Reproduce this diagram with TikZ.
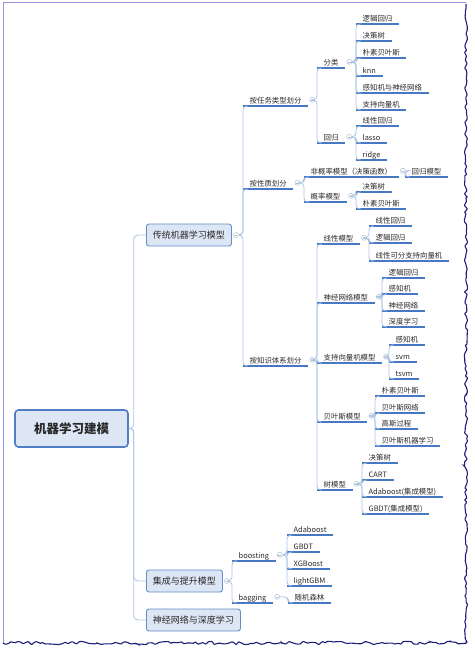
\documentclass[tikz,border=0pt]{standalone}
\usepackage{fontspec}
\setmainfont{Noto Sans CJK SC}
\usetikzlibrary{decorations.pathmorphing}
\definecolor{textgray}{RGB}{40,40,40}
\definecolor{ulblue}{RGB}{70,120,195}
\definecolor{linkblue}{RGB}{170,195,228}
\definecolor{boxfill}{RGB}{220,230,244}
\definecolor{boxblue}{RGB}{100,140,200}
\definecolor{rootblue}{RGB}{80,125,195}
\definecolor{foldgray}{RGB}{175,190,210}
\definecolor{framelav}{RGB}{150,145,225}
\definecolor{tornnavy}{RGB}{30,30,120}
\tikzset{
  rootbox/.style={
    draw=rootblue,
    fill=boxfill,
    line width=1.6pt,
    rounded corners=3.5pt,
    text=textgray,
    font=\fontsize{12.5}{14}\selectfont\bfseries,
    minimum width=113pt,
    minimum height=37pt
  },
  mainbox/.style={
    draw=boxblue,
    fill=boxfill,
    line width=0.9pt,
    rounded corners=2.5pt,
    text=textgray,
    font=\fontsize{9}{11}\selectfont,
    anchor=west,
    minimum height=22pt,
    inner xsep=6.5pt
  },
  topic/.style={
    anchor=south west,
    text=textgray,
    font=\fontsize{7.4}{8.8}\selectfont,
    inner xsep=6.5pt,
    inner ysep=1.5pt,
    text height=6pt,
    text depth=1pt,
    append after command={
      (\tikzlastnode.south west) edge[draw=ulblue,line width=1.1pt]
      (\tikzlastnode.south east)}
  },
  fold/.style={
    circle,
    draw=foldgray,
    fill=white,
    line width=0.5pt,
    inner sep=0pt,
    minimum size=5pt,
    path picture={
      \draw[foldgray,line width=0.4pt]
        ([xshift=-1.3pt]path picture bounding box.center) --
        ([xshift=1.3pt]path picture bounding box.center);}
  },
  branch/.style={
    draw=linkblue,
    line width=0.8pt,
    rounded corners=4pt
  },
  torn/.style={
    draw=tornnavy,
    line width=1.1pt,
    rounded corners=0.6pt,
    decorate,
    decoration={random steps,segment length=3.2pt,amplitude=1.7pt}
  }
}

\begin{document}
\begin{tikzpicture}[x=1pt,y=-1pt]
  \useasboundingbox (0,0) rectangle (474,655);
  \pgfmathsetseed{11}

  % Screenshot frame: plain top and left edge, torn right and bottom edge.
  \draw[framelav,line width=1pt] (3,643) -- (3,3) -- (466,3);
  \draw[torn] (466,4) -- (466,643) -- (3,643);

  % Root and first level.
  \node[rootbox] (ml) at (71.5,428.5) {机器学习建模};
  \node[mainbox] (trad) at (146,235) {传统机器学习模型};
  \node[mainbox] (ens)  at (146,581) {集成与提升模型};
  \node[mainbox] (nndl) at (146,620) {神经网络与深度学习};

  \foreach \c in {trad,ens,nndl}
    \draw[branch] (ml.east) -- ++(5pt,0) |- (\c.west);

  % Second level below the traditional models.
  \node[topic] (task)   at (243,106) {按任务类型划分};
  \node[topic] (nature) at (243,189) {按性质划分};
  \node[topic] (know)   at (243,366) {按知识体系划分};

  % By task.
  \node[topic] (cls) at (317,68)  {分类};
  \node[topic] (reg) at (317,143) {回归};

  \node[topic] (cls-lr)  at (356,24)  {逻辑回归};
  \node[topic] (cls-dt)  at (356,41)  {决策树};
  \node[topic] (cls-nb)  at (356,58)  {朴素贝叶斯};
  \node[topic] (cls-knn) at (356,76)  {knn};
  \node[topic] (cls-nn)  at (356,93)  {感知机与神经网络};
  \node[topic] (cls-svm) at (356,110) {支持向量机};

  \node[topic] (reg-lin)   at (356,126) {线性回归};
  \node[topic] (reg-lasso) at (356,143) {lasso};
  \node[topic] (reg-ridge) at (356,160) {ridge};

  % By nature.
  \node[topic] (nonprob) at (304,177) {非概率模型（决策函数）};
  \node[topic] (np-reg)  at (405,177) {回归模型};
  \node[topic] (prob)    at (304,202) {概率模型};
  \node[topic] (pr-dt)   at (356,192) {决策树};
  \node[topic] (pr-nb)   at (356,209) {朴素贝叶斯};

  % By body of knowledge.
  \node[topic] (lin)  at (317,244) {线性模型};
  \node[topic] (nnm)  at (317,303) {神经网络模型};
  \node[topic] (svmm) at (317,363) {支持向量机模型};
  \node[topic] (bay)  at (317,422) {贝叶斯模型};
  \node[topic] (tree) at (317,490) {树模型};

  \node[topic] (lin-reg) at (369,226) {线性回归};
  \node[topic] (lin-lr)  at (369,243) {逻辑回归};
  \node[topic] (lin-svm) at (369,261) {线性可分支持向量机};

  \node[topic] (nn-lr)  at (382,278) {逻辑回归};
  \node[topic] (nn-pct) at (382,294) {感知机};
  \node[topic] (nn-net) at (382,311) {神经网络};
  \node[topic] (nn-dl)  at (382,327) {深度学习};

  \node[topic] (sv-pct)  at (389,345) {感知机};
  \node[topic] (sv-svm)  at (389,362) {svm};
  \node[topic] (sv-tsvm) at (389,379) {tsvm};

  \node[topic] (bay-nb)  at (375,396) {朴素贝叶斯};
  \node[topic] (bay-net) at (375,413) {贝叶斯网络};
  \node[topic] (bay-gp)  at (375,429) {高斯过程};
  \node[topic] (bay-ml)  at (375,446) {贝叶斯机器学习};

  \node[topic] (tr-dt)   at (362,463) {决策树};
  \node[topic] (tr-cart) at (362,480) {CART};
  \node[topic] (tr-ada)  at (362,497) {Adaboost(集成模型)};
  \node[topic] (tr-gbdt) at (362,514) {GBDT(集成模型)};

  % Ensemble branch.
  \node[topic] (boost) at (232,561) {boosting};
  \node[topic] (bag)   at (232,603) {bagging};

  \node[topic] (bo-ada)  at (287,535) {Adaboost};
  \node[topic] (bo-gbdt) at (287,552) {GBDT};
  \node[topic] (bo-xgb)  at (287,569) {XGBoost};
  \node[topic] (bo-lgbm) at (287,586) {lightGBM};
  \node[topic] (bag-rf)  at (288,603) {随机森林};

  % Fold markers at the right end of every parent.
  \foreach \p in {trad,ens}
    \node[fold] (f-\p) at ([xshift=4pt]\p.east) {};
  \foreach \p in {task,nature,know,cls,reg,nonprob,prob,
                  lin,nnm,svmm,bay,tree,boost,bag}
    \node[fold] (f-\p) at ([xshift=4pt,yshift=1pt]\p.east) {};

  % Connectors from each fold marker to its children.
  \foreach \p/\kids in {
      trad/{task,nature,know},
      task/{cls,reg},
      cls/{cls-lr,cls-dt,cls-nb,cls-knn,cls-nn,cls-svm},
      reg/{reg-lin,reg-lasso,reg-ridge},
      nature/{nonprob,prob},
      nonprob/{np-reg},
      prob/{pr-dt,pr-nb},
      know/{lin,nnm,svmm,bay,tree},
      lin/{lin-reg,lin-lr,lin-svm},
      nnm/{nn-lr,nn-pct,nn-net,nn-dl},
      svmm/{sv-pct,sv-svm,sv-tsvm},
      bay/{bay-nb,bay-net,bay-gp,bay-ml},
      tree/{tr-dt,tr-cart,tr-ada,tr-gbdt},
      ens/{boost,bag},
      boost/{bo-ada,bo-gbdt,bo-xgb,bo-lgbm},
      bag/{bag-rf}}
    \foreach \c in \kids
      \draw[branch] (f-\p.east) -- (f-\p.east -| \c.south west)
        |- ([xshift=5pt]\c.south west);

\end{tikzpicture}
\end{document}
